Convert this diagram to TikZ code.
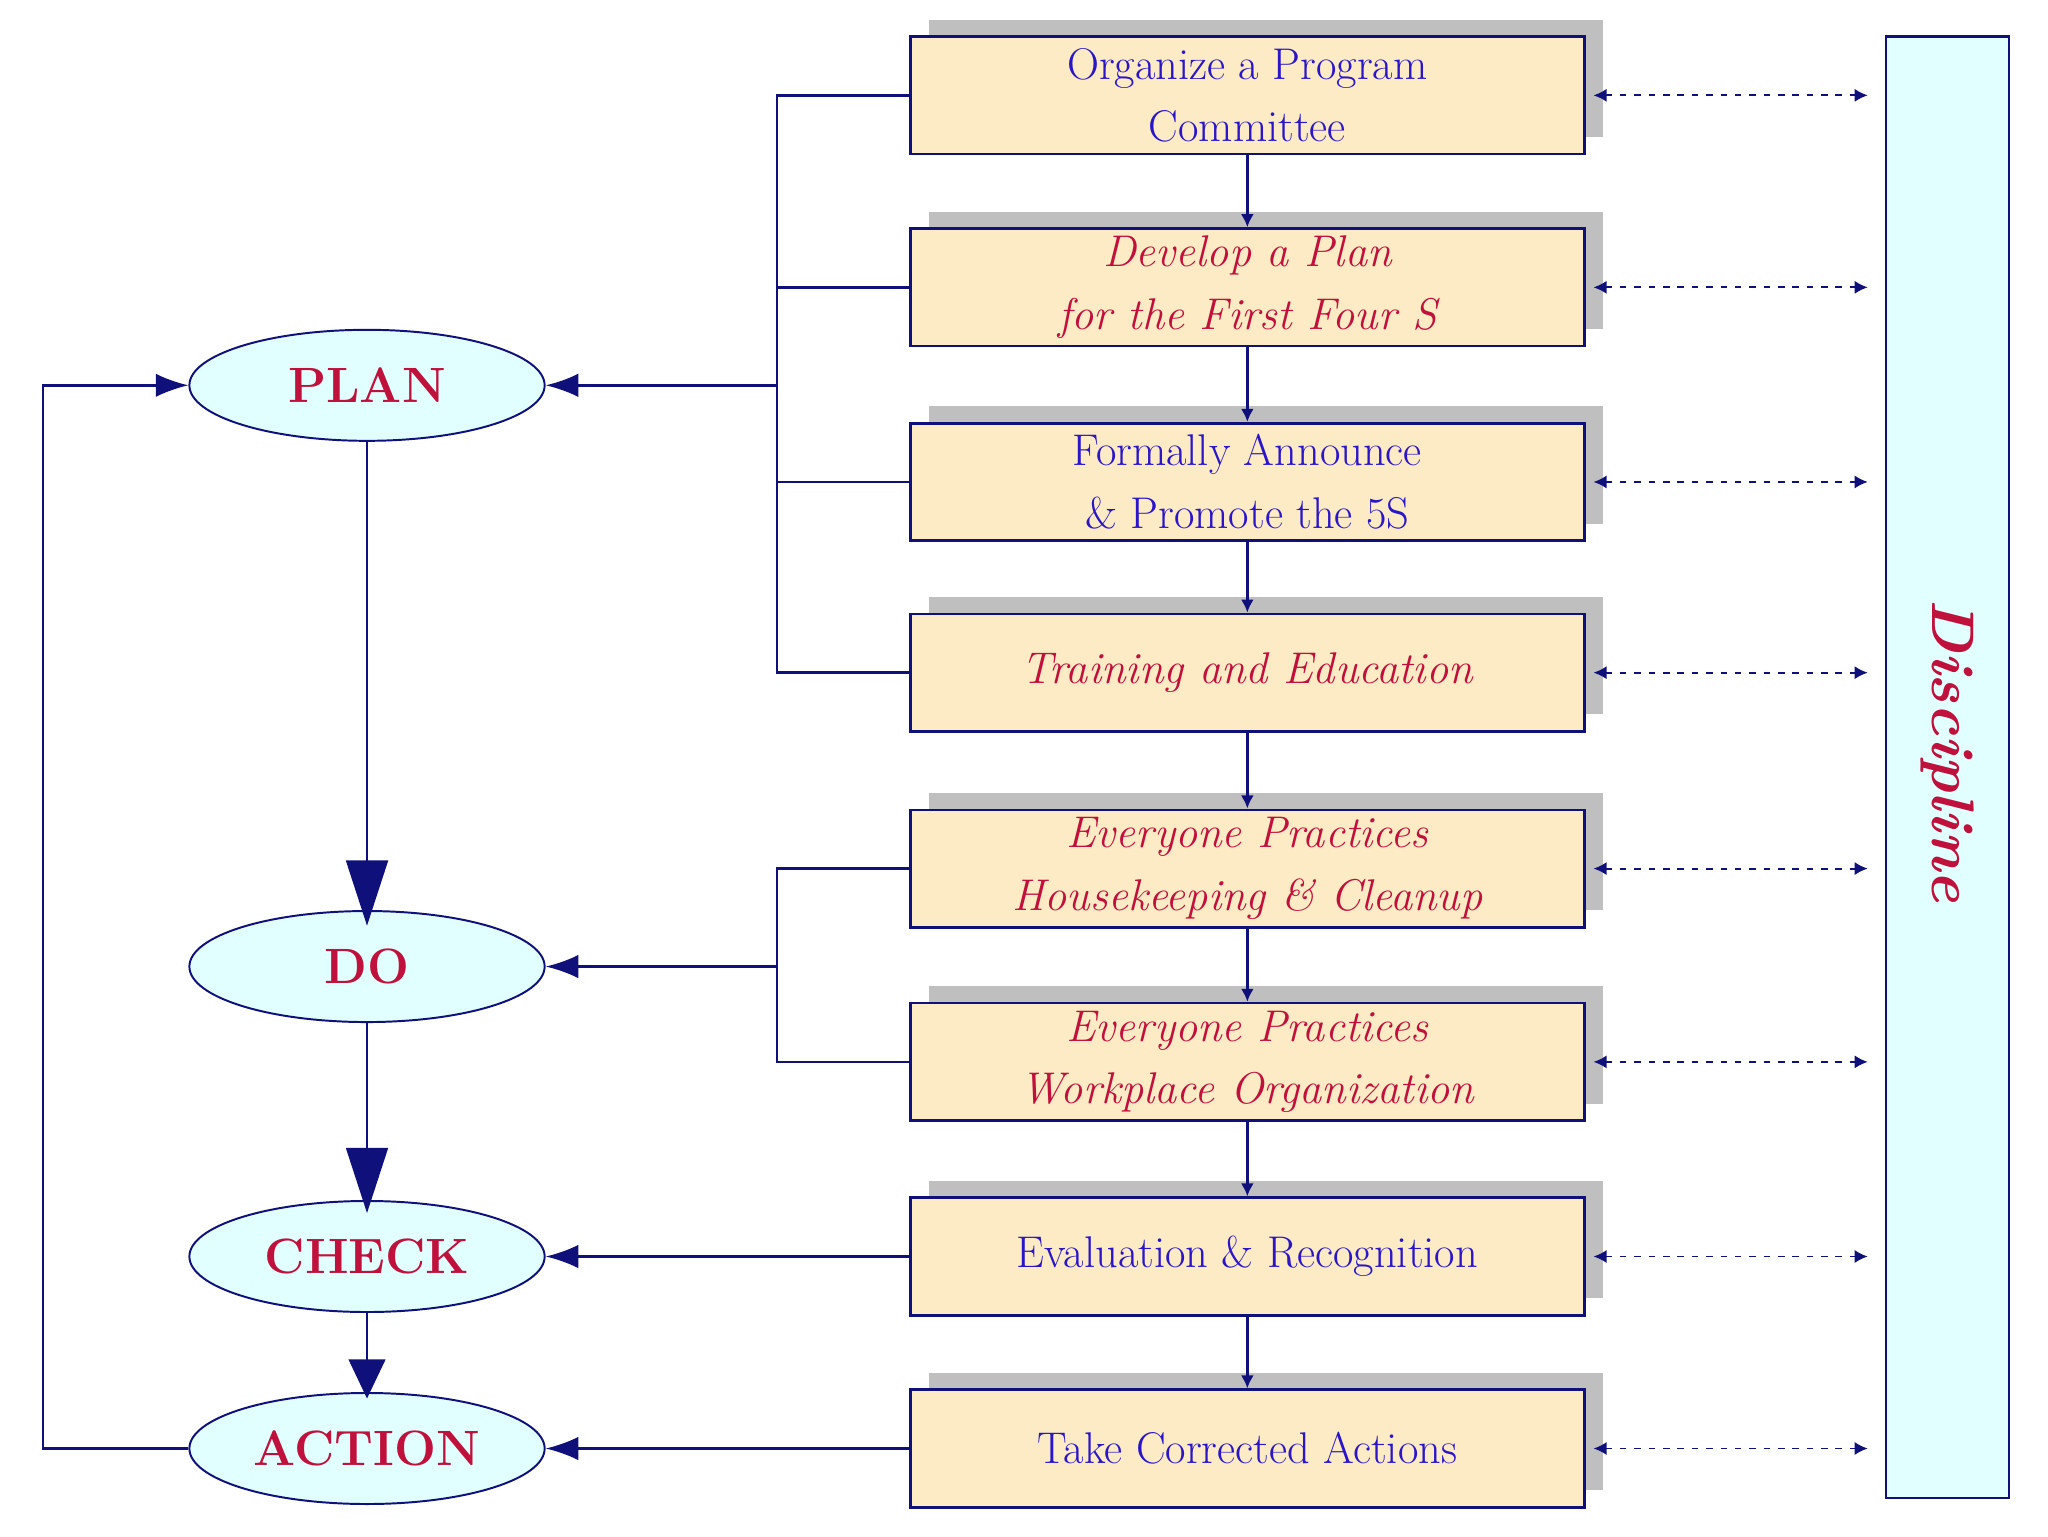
\documentclass[tikz,border=0pt]{standalone}
\usetikzlibrary{shapes.geometric,arrows.meta}
\definecolor{tb}{HTML}{2A16C8}
\definecolor{tr}{HTML}{C0103C}
\definecolor{ln}{HTML}{10107A}
\definecolor{bx}{HTML}{FCEBC4}
\definecolor{cy}{HTML}{E2FFFF}
\begin{document}
\begin{tikzpicture}[x=1pt,y=-1pt,
 box/.style={draw=ln,line width=2pt,fill=bx,minimum width=516pt,minimum height=90pt,align=center,font=\fontsize{34}{48}\selectfont},
 it/.style={text=tr,font=\fontsize{34}{48}\selectfont\itshape},
 sh/.style={fill=black!25},
 ell/.style={ellipse,draw=ln,line width=1.5pt,fill=cy,minimum width=272pt,minimum height=85pt,font=\fontsize{38}{42}\selectfont\bfseries,text=tr},
 con/.style={draw=ln,line width=2pt},
 sm/.style={con,-{Latex[length=10pt,width=10pt]}},
 big/.style={con,-{Triangle[length=50pt,width=32pt]}},
 dt/.style={draw=ln,line width=1.5pt,dash pattern=on 5pt off 6pt,{Latex[length=10pt,width=10pt]}-{Latex[length=10pt,width=10pt]}}]
\useasboundingbox (0,0) rectangle (1568,1176);
\foreach \y in {73,220,369,515,665,813,962,1109}{\fill[sh] (711,\y-58) rectangle (1227,\y+32);}
\node[box,text=tb] (b1) at (955,73) {Organize a Program\\Committee};
\node[box,it] (b2) at (955,220) {Develop a Plan\\for the First Four S};
\node[box,text=tb] (b3) at (955,369) {Formally Announce\\\& Promote the 5S};
\node[box,it] (b4) at (955,515) {Training and Education};
\node[box,it] (b5) at (955,665) {Everyone Practices\\Housekeeping \& Cleanup};
\node[box,it] (b6) at (955,813) {Everyone Practices\\Workplace Organization};
\node[box,text=tb] (b7) at (955,962) {Evaluation \& Recognition};
\node[box,text=tb] (b8) at (955,1109) {Take Corrected Actions};
\foreach \a/\b in {b1/b2,b2/b3,b3/b4,b4/b5,b5/b6,b6/b7,b7/b8}{\draw[sm] (\a.south) -- (\b.north);}
\node[draw=ln,line width=2pt,fill=cy,minimum width=94pt,minimum height=1119pt] (d) at (1491,587.5) {};
\node[rotate=-90,text=tr,font=\fontsize{46}{50}\selectfont\bfseries\itshape] at (1491,575) {Discipline};
\foreach \y in {73,220,369,515,665,813,962,1109}{
 \coordinate (l\y) at (1220,\y); \coordinate (r\y) at (1430,\y);
 \draw[dt] (l\y) -- (r\y);}
\node[ell] (plan) at (281,295) {PLAN};
\node[ell] (do) at (281,740) {DO};
\node[ell] (check) at (281,962) {CHECK};
\node[ell] (act) at (281,1109) {ACTION};
\coordinate (j1) at (595,73); \coordinate (j4) at (595,515); \coordinate (jp) at (595,295);
\draw[con] (b1.west) -- (j1) -- (j4) -- (b4.west);
\draw[con] (b2.west) -- (595,220); \draw[con] (b3.west) -- (595,369);
\draw[sm,-{Latex[length=25pt,width=18pt]}] (jp) -- (plan.east);
\coordinate (j5) at (595,665); \coordinate (j6) at (595,813);
\draw[con] (b5.west) -- (j5) -- (j6) -- (b6.west);
\draw[sm,-{Latex[length=25pt,width=18pt]}] (595,740) -- (do.east);
\draw[sm,-{Latex[length=25pt,width=18pt]}] (b7.west) -- (check.east);
\draw[sm,-{Latex[length=25pt,width=18pt]}] (b8.west) -- (act.east);
\draw[big] (plan.south) -- ([yshift=-12pt]do.north);
\draw[big] (do.south) -- ([yshift=-10pt]check.north);
\draw[con,-{Triangle[length=30pt,width=28pt]}] (check.south) -- ([yshift=-5pt]act.north);
\coordinate (c1) at (33,1109); \coordinate (c2) at (33,295);
\draw[con,-{Latex[length=25pt,width=18pt]}] (act.west) -- (c1) -- (c2) -- (plan.west);
\end{tikzpicture}
\end{document}
